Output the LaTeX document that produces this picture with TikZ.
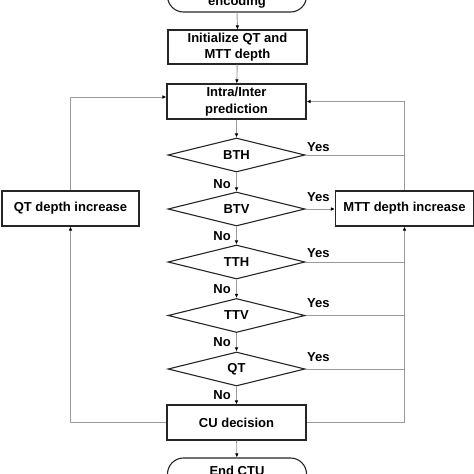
\documentclass[tikz,border=0pt]{standalone}
\usepackage{fontspec}
\setmainfont{Liberation Sans}
\usetikzlibrary{arrows.meta,shapes.geometric}
\definecolor{boxc}{HTML}{262626}
\definecolor{linec}{HTML}{9A9A9A}
\begin{document}
\begin{tikzpicture}[x=1pt,y=-1pt,
  font=\fontsize{13}{16.5}\selectfont\bfseries,
  box/.style={draw=boxc, line width=1.1pt, inner sep=0pt, align=center},
  stad/.style={box, rounded corners=16pt, minimum width=139pt},
  dia/.style={diamond, draw=boxc, line width=1.1pt, minimum width=137pt, minimum height=34pt, inner sep=0pt, aspect=4},
  conn/.style={draw=linec, line width=0.9pt},
  arr/.style={conn, -{Latex[length=4pt,width=3.6pt,color=black]}},
  lab/.style={inner sep=0pt}]
\useasboundingbox (0,0) rectangle (474,474);
\clip (0,0) rectangle (474,474);
\fill[white] (0,0) rectangle (474,474);

\node[stad, anchor=base, text height=25.5pt, text depth=6.5pt] (start) at (237,5.5) {encoding};
\node[box, minimum width=139pt, minimum height=34pt] (init) at (237.5,47) {Initialize QT and\\MTT depth};
\node[box, minimum width=139pt, minimum height=35pt] (intra) at (236.5,101.5) {Intra/Inter\\prediction};
\node[dia] (bth) at (236.5,155) {BTH};
\node[dia] (btv) at (236.5,209) {BTV};
\node[dia] (tth) at (236.5,262) {TTH};
\node[dia] (ttv) at (236.5,315.5) {TTV};
\node[dia] (qt) at (236.5,369) {QT};
\node[box, minimum width=137pt, minimum height=35pt] (qtinc) at (70.5,208.5) {QT depth increase};
\node[box, minimum width=138pt, minimum height=35pt] (mttinc) at (404.5,208.5) {MTT depth increase};
\node[box, minimum width=139pt, minimum height=35pt] (cu) at (236.5,422.5) {CU decision};
\node[stad, anchor=base, text height=17pt, text depth=15pt] (end) at (237,475) {End CTU};

% main flow
\draw[arr] (start.south) -- (init.north);
\draw[arr] (init) -- (intra);
\draw[arr] (intra) -- (bth);
\draw[arr] (bth) -- (btv);
\draw[arr] (btv) -- (tth);
\draw[arr] (tth) -- (ttv);
\draw[arr] (ttv) -- (qt);
\draw[arr] (qt) -- (cu);
\draw[arr] (cu) -- (end);

% yes branches
\draw[conn] (bth.east) -- (bth.east -| mttinc.north);
\draw[arr] (mttinc.north) |- (intra.east);
\draw[arr] (btv.east) -- (btv.east -| mttinc.west);
\draw[conn] (tth.east) -- (tth.east -| mttinc.south);
\draw[conn] (ttv.east) -- (ttv.east -| mttinc.south);
\draw[conn] (qt.east) -- (qt.east -| mttinc.south);
\draw[arr] (cu.east) -| (mttinc.south);
\draw[arr] (cu.west) -| (qtinc.south);
\draw[arr] (qtinc.north) |- ([yshift=4.5pt]intra.west);

% labels
\node[lab, anchor=base west] (y1) at (307,151) {Yes};
\node[lab, anchor=base west] (y2) at (307,201) {Yes};
\node[lab, anchor=base west] (y3) at (307,257) {Yes};
\node[lab, anchor=base west] (y4) at (307,307) {Yes};
\node[lab, anchor=base west] (y5) at (307,361) {Yes};
\node[lab, anchor=base east] (n1) at (231,188) {No};
\node[lab, anchor=base east] (n2) at (231,240) {No};
\node[lab, anchor=base east] (n3) at (231,293) {No};
\node[lab, anchor=base east] (n4) at (231,346) {No};
\node[lab, anchor=base east] (n5) at (231,399) {No};
\end{tikzpicture}
\end{document}
